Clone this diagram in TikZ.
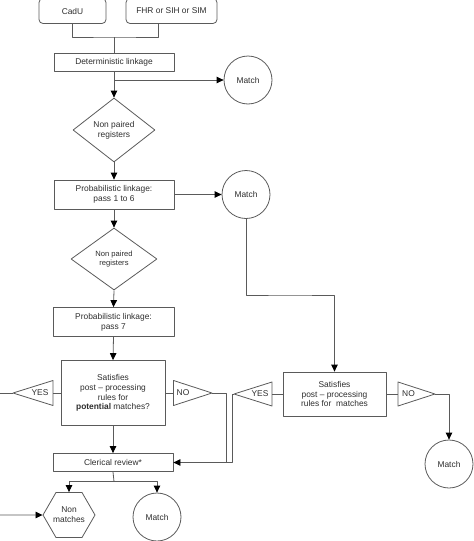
\documentclass[tikz,border=0pt]{standalone}
\usepackage{fontspec}
\setmainfont{Liberation Sans}
\usetikzlibrary{shapes.geometric,arrows.meta,calc}
\definecolor{flowgrey}{RGB}{90,90,90}
\definecolor{flowtext}{RGB}{45,45,45}

\begin{document}
\begin{tikzpicture}[x=1pt, y=-1pt, line width=0.8pt, line join=round,
  every node/.style={font=\fontsize{8.4}{9.8}\selectfont, text=flowtext, align=center, inner sep=0pt},
  flow/.style={draw=flowgrey},
  arrow/.style={flow, -{Triangle[length=7pt,width=6.5pt,color=black]}},
  box/.style={draw=flowgrey, rectangle},
  srcbox/.style={box, rounded corners=4pt},
  decision/.style={draw=flowgrey, diamond},
  result/.style={draw=flowgrey, circle, minimum size=48pt},
  flag/.style={draw=flowgrey}]
  \useasboundingbox (0,0) rectangle (474,541);

  % --- sources ---
  \node[srcbox, minimum width=67pt, minimum height=25pt] (cadu) at (72.5,11) {CadU};
  \node[srcbox, minimum width=91pt, minimum height=25pt] (fhr) at (171.5,11) {FHR or SIH or SIM};
  \coordinate (topjoin) at (114,37);

  % --- deterministic step ---
  \node[box, minimum width=120pt, minimum height=18pt] (det) at (114,62) {Deterministic linkage};
  \node[result] (match1) at (248,80) {Match};
  \node[decision, minimum width=82pt, minimum height=64pt] (np1) at (114,130) {Non paired\\registers};

  % --- probabilistic passes ---
  \node[box, minimum width=120pt, minimum height=29pt] (pl1) at (114,194.5) {Probabilistic linkage:\\pass 1 to 6};
  \node[result] (match2) at (246,194.5) {Match};
  \node[decision, minimum width=86pt, minimum height=62pt, font=\fontsize{7.6}{9}\selectfont] (np2) at (114,259) {Non paired\\registers};
  \node[box, minimum width=121pt, minimum height=29pt] (pl2) at (113.5,322) {Probabilistic linkage:\\pass 7};

  % --- post-processing checks ---
  \node[box, minimum width=104pt, minimum height=65pt] (sat1) at (113,393) {Satisfies\\post -- processing\\rules for\\\textbf{potential} matches?};
  \node[box, minimum width=103pt, minimum height=44pt] (sat2) at (334.5,394) {Satisfies\\post -- processing\\rules for~ matches};
  \coordinate (bendA) at (290,295);

  % --- review and outcomes ---
  \node[box, minimum width=120pt, minimum height=18pt] (clerical) at (113,462.5) {Clerical review*};
  \node[draw=flowgrey, regular polygon, regular polygon sides=6, minimum size=52pt] (nonm) at (69,515) {Non\\matches};
  \node[result] (match4) at (157,517) {Match};
  \node[result] (match3) at (449,464) {Match};
  \coordinate (splitC) at (114,481.5);
  \coordinate (leftB) at (0,515);

  % === YES / NO flags ===
  \coordinate (yesA-tip) at (13,393);
  \coordinate (yesA-bt) at (53,380.5);
  \coordinate (yesA-bb) at (53,405.5);
  \draw[flag] (yesA-tip) -- (yesA-bt) -- (yesA-bb) -- cycle;
  \node (yesA) at (40,393) {YES};
  \coordinate (leftA) at (0,393);

  \coordinate (noA-tip) at (212,393);
  \coordinate (noA-bt) at (173.5,380.5);
  \coordinate (noA-bb) at (173.5,405.5);
  \draw[flag] (noA-tip) -- (noA-bt) -- (noA-bb) -- cycle;
  \node (noA) at (183,393) {NO};

  \coordinate (yesB-tip) at (234,394);
  \coordinate (yesB-bt) at (272,382);
  \coordinate (yesB-bb) at (272,406);
  \draw[flag] (yesB-tip) -- (yesB-bt) -- (yesB-bb) -- cycle;
  \node (yesB) at (260,394) {YES};

  \coordinate (noB-tip) at (435,394);
  \coordinate (noB-bt) at (398,382);
  \coordinate (noB-bb) at (398,406);
  \draw[flag] (noB-tip) -- (noB-bt) -- (noB-bb) -- cycle;
  \node (noB) at (408.5,394) {NO};

  \coordinate (mergeA) at (226,462.5);
  \coordinate (mergeB) at (232,462.5);

  % === connectors ===
  \draw[flow] (cadu.south) |- (topjoin) -| ($(fhr.south)+(-13,0)$);
  \draw[flow] (topjoin) -- (det.north);
  \draw[arrow] (det.south) -- (np1.north);
  \draw[arrow] (det.south |- match1) -- (match1.west);
  \draw[arrow] (np1.south) -- (pl1.north);
  \draw[arrow] (pl1.east) -- (match2.west);
  \draw[arrow] (pl1.south) -- (np2.north);
  \draw[arrow] (np2.south) -- (pl2.north);
  \draw[arrow] (pl2.south) -- (sat1.north);
  \draw[arrow] (match2.south) |- (bendA) -| (sat2.north);

  \draw[flow] (sat1.west) -- (yesA-tip -| yesA-bt);
  \draw[flow] (yesA-tip) -- (leftA);
  \draw[flow] (sat1.east) -- (noA-tip -| noA-bt);
  \draw[arrow] (noA-tip) -| (mergeA) -- (clerical.east);
  \draw[flow] (sat2.west) -- (yesB-tip -| yesB-bt);
  \draw[flow] (yesB-tip) -| (mergeB) -- (mergeA);
  \draw[flow] (sat2.east) -- (noB-tip -| noB-bt);
  \draw[arrow] (noB-tip) -| (match3.north);

  \draw[arrow] (sat1.south) -- (clerical.north);
  \draw[flow] (clerical.south) -- (splitC);
  \draw[arrow] (splitC) -| (nonm.north);
  \draw[arrow] (splitC) -| (match4.north);
  \draw[arrow] (leftB) -- (nonm.west);
\end{tikzpicture}
\end{document}
